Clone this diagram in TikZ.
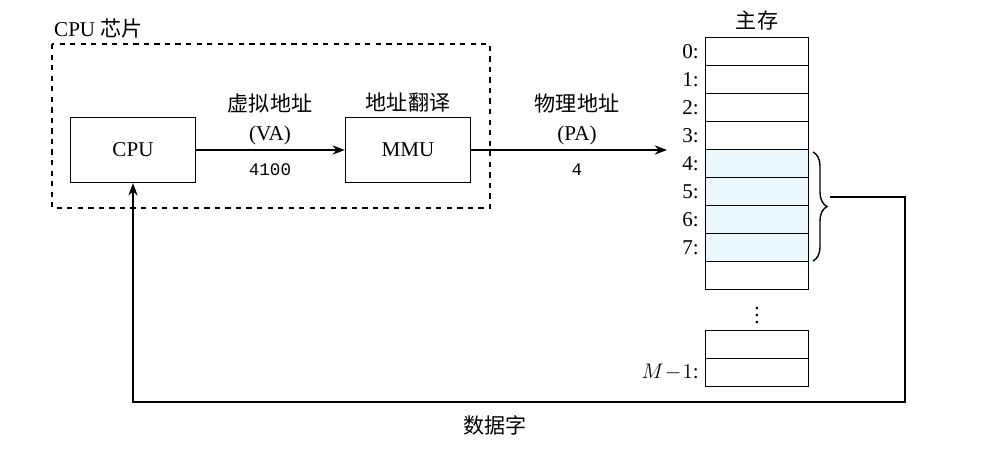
\documentclass[tikz,border=0pt]{standalone}
\usepackage{fontspec}
\setmainfont{Liberation Serif}
\setmonofont{Liberation Mono}
\newfontfamily\cjk{Noto Sans CJK SC}
\usetikzlibrary{arrows.meta,decorations.pathreplacing}
\begin{document}
\begin{tikzpicture}[x=0.02cm,y=-0.02cm,
  box/.style={draw,thick,minimum width=2.5cm,minimum height=1.3cm,font=\large},
  cell/.style={draw,minimum width=2.06cm,minimum height=0.56cm,inner sep=0pt,anchor=north west},
  lab/.style={font=\large},
  arr/.style={-{Stealth[length=7pt]},thick}]
\useasboundingbox (0,0) rectangle (992,458);
\node[lab,anchor=west] (chip) at (48,28) {CPU \cjk 芯片};
\draw[dashed,thick] (52,44) rectangle (490,208);
\node[box] (cpu) at (133,150) {CPU};
\node[box] (mmu) at (408,150) {MMU};
\draw[arr] (cpu) -- (mmu);
\node[lab] (va1) at (270,103) {\cjk 虚拟地址};
\node[lab] (va2) at (270,135) {(VA)};
\node (va3) at (270,170) {\ttfamily 4100};
\node[lab] (tr) at (408,103) {\cjk 地址翻译};
\coordinate (memin) at (667,150);
\draw[arr] (mmu.east) -- (memin);
\node[lab] (pa1) at (577,103) {\cjk 物理地址};
\node[lab] (pa2) at (577,135) {(PA)};
\node (pa3) at (577,170) {\ttfamily 4};
\node[lab] (mm) at (757,20) {\cjk 主存};
\foreach \i/\f in {0/white,1/white,2/white,3/white,4/cyan!8,5/cyan!8,6/cyan!8,7/cyan!8,8/white}{
  \pgfmathsetmacro\yy{37+28*\i}
  \node[cell,fill=\f] (c\i) at (705,\yy) {};
}
\foreach \i in {0,...,7}{\node[lab,anchor=east] (l\i) at (c\i.west) {\i:};}
\node[cell] (cm2) at (705,330) {};
\node[cell] (cm1) at (705,358) {};
\node[lab,anchor=east] (lm) at (cm1.west) {$M\!-\!1$:};
\node[lab,inner sep=0pt] (dots) at (757,310) {$\vdots$};
\draw[decorate,decoration={brace,amplitude=8pt},thick] (813,152) -- (813,261);
\coordinate (tip) at (830,197);
\coordinate (r1) at (905,197);
\coordinate (r2) at (905,402);
\coordinate (r3) at (133,402);
\draw[arr] (tip) -- (r1) -- (r2) -- (r3) -- (cpu.south);
\node[lab] (dw) at (495,425) {\cjk 数据字};
\end{tikzpicture}
\end{document}
